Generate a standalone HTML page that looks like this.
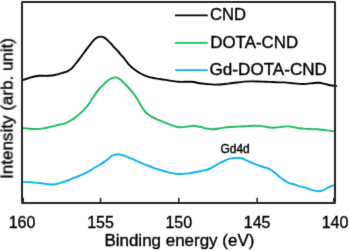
<!DOCTYPE html>
<html><head><meta charset="utf-8"><style>
html,body{margin:0;padding:0;background:#fff;}
body{width:349px;height:251px;overflow:hidden;}
svg{display:block;}
text{font-family:"Liberation Sans",sans-serif;fill:#000;stroke:#000;stroke-width:0.35px;}
</style></head><body>
<svg width="349" height="251" viewBox="0 0 349 251">
<defs><filter id="f" x="0" y="0" width="349" height="251" filterUnits="userSpaceOnUse" color-interpolation-filters="sRGB"><feConvolveMatrix order="3" kernelMatrix="1 8 1 8 64 8 1 8 1" edgeMode="duplicate"/></filter></defs>
<g filter="url(#f)">
<rect x="0" y="0" width="349" height="251" fill="#fff"/>
<g fill="none" stroke-linejoin="round" stroke-linecap="round">
<path d="M22.40,80.20 C23.43,79.87 26.62,78.82 28.60,78.20 C30.58,77.58 32.38,76.92 34.30,76.50 C36.22,76.08 38.18,75.80 40.10,75.70 C42.02,75.60 43.90,75.93 45.80,75.90 C47.70,75.87 49.97,75.65 51.50,75.50 C53.03,75.35 53.58,75.32 55.00,75.00 C56.42,74.68 58.33,74.07 60.00,73.60 C61.67,73.13 63.67,72.65 65.00,72.20 C66.33,71.75 67.12,71.33 68.00,70.90 C68.88,70.47 69.45,70.28 70.30,69.60 C71.15,68.92 72.17,67.82 73.10,66.80 C74.03,65.78 74.97,64.65 75.90,63.50 C76.83,62.35 77.77,61.13 78.70,59.90 C79.63,58.67 80.57,57.37 81.50,56.10 C82.43,54.83 83.35,53.58 84.30,52.30 C85.25,51.02 86.13,49.80 87.20,48.40 C88.27,47.00 89.52,45.37 90.70,43.90 C91.88,42.43 93.10,40.72 94.30,39.60 C95.50,38.48 96.80,37.70 97.90,37.20 C99.00,36.70 99.90,36.57 100.90,36.60 C101.90,36.63 102.80,36.82 103.90,37.40 C105.00,37.98 106.32,39.05 107.50,40.10 C108.68,41.15 109.82,42.43 111.00,43.70 C112.18,44.97 113.40,46.40 114.60,47.70 C115.80,49.00 117.13,50.28 118.20,51.50 C119.27,52.72 120.13,54.00 121.00,55.00 C121.87,56.00 122.32,56.20 123.40,57.50 C124.48,58.80 126.12,61.17 127.50,62.80 C128.88,64.43 130.30,66.02 131.70,67.30 C133.10,68.58 134.50,69.50 135.90,70.50 C137.30,71.50 138.70,72.48 140.10,73.30 C141.50,74.12 142.92,74.80 144.30,75.40 C145.68,76.00 147.02,76.50 148.40,76.90 C149.78,77.30 151.38,77.55 152.60,77.80 C153.82,78.05 154.22,78.15 155.70,78.40 C157.18,78.65 159.58,79.02 161.50,79.30 C163.42,79.58 165.30,79.80 167.20,80.10 C169.10,80.40 170.98,80.82 172.90,81.10 C174.82,81.38 176.78,81.68 178.70,81.80 C180.62,81.92 182.52,81.80 184.40,81.80 C186.28,81.80 188.40,81.77 190.00,81.80 C191.60,81.83 192.45,81.77 194.00,82.00 C195.55,82.23 197.22,82.87 199.30,83.20 C201.38,83.53 204.10,83.77 206.50,84.00 C208.90,84.23 211.32,84.52 213.70,84.60 C216.08,84.68 218.42,84.67 220.80,84.50 C223.18,84.33 225.27,83.93 228.00,83.60 C230.73,83.27 234.48,82.83 237.20,82.50 C239.92,82.17 241.92,81.78 244.30,81.60 C246.68,81.42 249.10,81.42 251.50,81.40 C253.90,81.38 256.32,81.45 258.70,81.50 C261.08,81.55 263.42,81.62 265.80,81.70 C268.18,81.78 270.63,81.88 273.00,82.00 C275.37,82.12 278.00,82.33 280.00,82.40 C282.00,82.47 282.97,82.27 285.00,82.40 C287.03,82.53 289.82,82.95 292.20,83.20 C294.58,83.45 296.92,83.78 299.30,83.90 C301.68,84.02 304.10,84.05 306.50,83.90 C308.90,83.75 311.57,83.18 313.70,83.00 C315.83,82.82 317.65,82.70 319.30,82.80 C320.95,82.90 322.17,83.28 323.60,83.60 C325.03,83.92 326.47,84.38 327.90,84.70 C329.33,85.02 331.10,85.32 332.20,85.50 C333.30,85.68 333.82,85.73 334.50,85.80 C335.18,85.87 336.00,85.88 336.30,85.90" stroke="#000" stroke-width="1.9"/>
<path d="M22.30,128.00 C22.87,128.07 24.17,128.23 25.70,128.40 C27.23,128.57 29.58,128.90 31.50,129.00 C33.42,129.10 35.30,129.10 37.20,129.00 C39.10,128.90 40.98,128.68 42.90,128.40 C44.82,128.12 46.78,127.72 48.70,127.30 C50.62,126.88 52.65,126.33 54.40,125.90 C56.15,125.47 57.70,125.05 59.20,124.70 C60.70,124.35 62.02,124.20 63.40,123.80 C64.78,123.40 66.12,122.93 67.50,122.30 C68.88,121.67 70.30,120.88 71.70,120.00 C73.10,119.12 74.50,118.10 75.90,117.00 C77.30,115.90 78.70,114.67 80.10,113.40 C81.50,112.13 82.92,110.87 84.30,109.40 C85.68,107.93 87.08,106.37 88.40,104.60 C89.72,102.83 91.00,100.63 92.20,98.80 C93.40,96.97 94.30,95.40 95.60,93.60 C96.90,91.80 98.75,89.42 100.00,88.00 C101.25,86.58 101.88,86.25 103.10,85.10 C104.32,83.95 105.90,82.22 107.30,81.10 C108.70,79.98 110.10,79.02 111.50,78.40 C112.90,77.78 114.30,77.28 115.70,77.40 C117.10,77.52 118.52,78.18 119.90,79.10 C121.28,80.02 122.52,81.42 124.00,82.90 C125.48,84.38 127.12,86.08 128.80,88.00 C130.48,89.92 132.58,92.38 134.10,94.40 C135.62,96.42 136.72,98.18 137.90,100.10 C139.08,102.02 140.03,104.03 141.20,105.90 C142.37,107.77 143.62,109.78 144.90,111.30 C146.18,112.82 147.57,113.98 148.90,115.00 C150.23,116.02 151.57,116.68 152.90,117.40 C154.23,118.12 155.57,118.72 156.90,119.30 C158.23,119.88 159.43,120.30 160.90,120.90 C162.37,121.50 163.93,122.20 165.70,122.90 C167.47,123.60 169.58,124.42 171.50,125.10 C173.42,125.78 175.30,126.67 177.20,127.00 C179.10,127.33 180.98,127.20 182.90,127.10 C184.82,127.00 186.98,126.63 188.70,126.40 C190.42,126.17 191.68,125.68 193.20,125.70 C194.72,125.72 196.33,126.23 197.80,126.50 C199.27,126.77 200.55,126.97 202.00,127.30 C203.45,127.63 204.80,128.18 206.50,128.50 C208.20,128.82 210.30,129.17 212.20,129.20 C214.10,129.23 215.98,128.97 217.90,128.70 C219.82,128.43 221.78,127.88 223.70,127.60 C225.62,127.32 227.40,127.15 229.40,127.00 C231.40,126.85 233.68,126.78 235.70,126.70 C237.72,126.62 239.58,126.60 241.50,126.50 C243.42,126.40 245.30,126.23 247.20,126.10 C249.10,125.97 250.98,125.73 252.90,125.70 C254.82,125.67 256.78,125.77 258.70,125.90 C260.62,126.03 262.40,126.20 264.40,126.50 C266.40,126.80 268.68,127.55 270.70,127.70 C272.72,127.85 274.58,127.55 276.50,127.40 C278.42,127.25 280.30,126.97 282.20,126.80 C284.10,126.63 285.98,126.35 287.90,126.40 C289.82,126.45 291.78,126.78 293.70,127.10 C295.62,127.42 297.40,128.00 299.40,128.30 C301.40,128.60 303.68,128.77 305.70,128.90 C307.72,129.03 309.58,129.05 311.50,129.10 C313.42,129.15 315.30,129.08 317.20,129.20 C319.10,129.32 320.98,129.57 322.90,129.80 C324.82,130.03 326.78,130.33 328.70,130.60 C330.62,130.87 333.45,131.27 334.40,131.40" stroke="#1fba5e" stroke-width="1.9"/>
<path d="M22.30,182.10 C22.87,182.10 24.17,182.07 25.70,182.10 C27.23,182.13 29.58,182.17 31.50,182.30 C33.42,182.43 35.78,182.78 37.20,182.90 C38.62,183.02 38.82,182.87 40.00,183.00 C41.18,183.13 42.87,183.48 44.30,183.70 C45.73,183.92 47.17,184.17 48.60,184.30 C50.03,184.43 51.47,184.57 52.90,184.50 C54.33,184.43 55.77,184.20 57.20,183.90 C58.63,183.60 60.07,183.17 61.50,182.70 C62.93,182.23 64.38,181.62 65.80,181.10 C67.22,180.58 68.63,180.13 70.00,179.60 C71.37,179.07 72.52,178.50 74.00,177.90 C75.48,177.30 77.08,176.75 78.90,176.00 C80.72,175.25 82.98,174.33 84.90,173.40 C86.82,172.47 88.95,171.25 90.40,170.40 C91.85,169.55 92.47,168.98 93.60,168.30 C94.73,167.62 96.02,167.00 97.20,166.30 C98.38,165.60 99.52,164.83 100.70,164.10 C101.88,163.37 103.10,162.73 104.30,161.90 C105.50,161.07 106.70,160.08 107.90,159.10 C109.10,158.12 110.30,156.75 111.50,156.00 C112.70,155.25 113.90,154.88 115.10,154.60 C116.30,154.32 117.52,154.22 118.70,154.30 C119.88,154.38 121.02,154.77 122.20,155.10 C123.38,155.43 124.33,155.75 125.80,156.30 C127.27,156.85 129.15,157.62 131.00,158.40 C132.85,159.18 134.92,160.12 136.90,161.00 C138.88,161.88 140.90,162.87 142.90,163.70 C144.90,164.53 146.90,165.23 148.90,166.00 C150.90,166.77 152.92,167.62 154.90,168.30 C156.88,168.98 159.00,169.53 160.80,170.10 C162.60,170.67 163.92,171.20 165.70,171.70 C167.48,172.20 169.58,172.72 171.50,173.10 C173.42,173.48 175.30,173.87 177.20,174.00 C179.10,174.13 180.98,174.00 182.90,173.90 C184.82,173.80 186.78,173.67 188.70,173.40 C190.62,173.13 192.52,172.65 194.40,172.30 C196.28,171.95 198.23,171.65 200.00,171.30 C201.77,170.95 203.50,170.58 205.00,170.20 C206.50,169.82 207.67,169.55 209.00,169.00 C210.33,168.45 211.35,167.82 213.00,166.90 C214.65,165.98 217.12,164.45 218.90,163.50 C220.68,162.55 222.12,161.93 223.70,161.20 C225.28,160.47 226.93,159.58 228.40,159.10 C229.87,158.62 231.07,158.50 232.50,158.30 C233.93,158.10 235.58,157.90 237.00,157.90 C238.42,157.90 239.58,157.97 241.00,158.30 C242.42,158.63 243.95,159.25 245.50,159.90 C247.05,160.55 248.70,161.48 250.30,162.20 C251.90,162.92 253.50,163.60 255.10,164.20 C256.70,164.80 258.32,165.28 259.90,165.80 C261.48,166.32 263.05,166.78 264.60,167.30 C266.15,167.82 267.73,168.20 269.20,168.90 C270.67,169.60 272.02,170.48 273.40,171.50 C274.78,172.52 276.12,173.82 277.50,175.00 C278.88,176.18 280.30,177.55 281.70,178.60 C283.10,179.65 284.50,180.52 285.90,181.30 C287.30,182.08 288.70,182.78 290.10,183.30 C291.50,183.82 292.92,183.98 294.30,184.40 C295.68,184.82 297.12,185.40 298.40,185.80 C299.68,186.20 300.78,186.48 302.00,186.80 C303.22,187.12 304.12,187.18 305.70,187.70 C307.28,188.22 309.58,189.33 311.50,189.90 C313.42,190.47 315.68,190.92 317.20,191.10 C318.72,191.28 319.27,191.35 320.60,191.00 C321.93,190.65 323.67,189.72 325.20,189.00 C326.73,188.28 328.27,187.37 329.80,186.70 C331.33,186.03 333.63,185.28 334.40,185.00" stroke="#0aafee" stroke-width="1.9"/>
</g>
<g stroke="#262626" fill="none">
<line x1="23.2" x2="23.2" y1="202.5" y2="197.8" stroke-width="1.6"/>
<line x1="100.5" x2="100.5" y1="202.5" y2="197.8" stroke-width="1.6"/>
<line x1="178.8" x2="178.8" y1="202.5" y2="197.8" stroke-width="1.6"/>
<line x1="257.1" x2="257.1" y1="202.5" y2="197.8" stroke-width="1.6"/>
<line x1="333.8" x2="333.8" y1="202.5" y2="197.8" stroke-width="1.6"/>
<rect x="22" y="2.0" width="313" height="201.0" stroke-width="2" rx="0.5"/>
</g>
<g stroke-width="1.7">
<line x1="175" x2="207.8" y1="15.4" y2="15.4" stroke="#000"/>
<line x1="175" x2="207.8" y1="42.9" y2="42.9" stroke="#1fba5e"/>
<line x1="175" x2="207.8" y1="70.1" y2="70.1" stroke="#0aafee"/>
</g>
<text x="22.0" y="227.5" font-size="16" text-anchor="middle">160</text>
<text x="100.5" y="227.5" font-size="16" text-anchor="middle">155</text>
<text x="178.8" y="227.5" font-size="16" text-anchor="middle">150</text>
<text x="257.1" y="227.5" font-size="16" text-anchor="middle">145</text>
<text x="335.0" y="227.5" font-size="16" text-anchor="middle">140</text>
<text x="104.4" y="246.3" font-size="16" textLength="150" lengthAdjust="spacingAndGlyphs">Binding energy (eV)</text>
<text transform="translate(12.6,178.9) rotate(-90)" x="0" y="0" font-size="16" textLength="141" lengthAdjust="spacingAndGlyphs">Intensity (arb. unit)</text>
<text x="235.1" y="153.3" font-size="12" text-anchor="middle" style="stroke-width:0.4px">Gd4d</text>
<text x="210" y="19.9" font-size="16" textLength="36.1" lengthAdjust="spacingAndGlyphs">CND</text>
<text x="210.3" y="47.5" font-size="16" textLength="87.8" lengthAdjust="spacingAndGlyphs">DOTA-CND</text>
<text x="209.6" y="74.5" font-size="16" textLength="117.3" lengthAdjust="spacingAndGlyphs">Gd-DOTA-CND</text>
</g>
</svg>
</body></html>
